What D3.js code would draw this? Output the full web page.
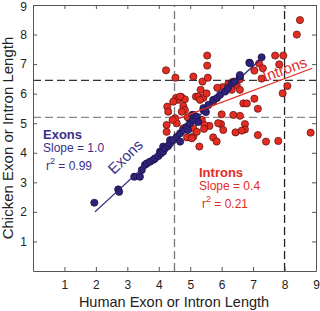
<!DOCTYPE html>
<html>
<head>
<meta charset="utf-8">
<script src="https://cdn.jsdelivr.net/npm/d3@7"></script>
<style>
  body { margin: 0; background: #fff; }
  svg { display: block; font-family: "Liberation Sans", Arial, sans-serif; }
</style>
</head>
<body>
<script>
  /***** Data *****/
  var exonHuman = [1.95, 2.71, 2.74, 3.22, 3.40, 3.46, 3.56, 3.62, 3.72, 3.83, 3.88, 3.99, 4.04, 4.07, 4.14, 4.14,
    4.20, 4.30, 4.36, 4.36, 4.46, 4.57, 4.68, 4.68, 4.78, 4.89, 4.93, 4.99, 5.10, 5.10, 5.21, 5.25, 5.42, 5.42, 5.50,
    5.58, 5.73, 5.85, 5.95, 6.11, 6.20, 6.32, 6.42, 6.58, 6.58, 6.88, 6.90, 7.27];
  var exonChicken = [2.31, 2.76, 2.68, 3.19, 3.19, 3.42, 3.59, 3.64, 3.70, 3.76, 3.81, 3.89, 4.04, 3.98, 4.04, 4.21,
    4.15, 4.23, 4.32, 4.43, 4.43, 4.54, 4.38, 4.66, 4.77, 4.88, 4.77, 5.00, 5.11, 5.28, 5.22, 5.04, 5.45, 5.51, 5.38,
    5.62, 5.79, 5.85, 5.96, 6.07, 6.19, 6.35, 6.41, 6.58, 6.63, 7.05, 7.03, 7.23];

  var intronHuman = [8.49, 8.39, 5.54, 5.54, 4.23, 4.53, 5.10, 5.39, 5.56, 7.70, 7.96, 7.83, 7.19, 7.04, 7.31, 7.27,
    8.09, 7.94, 7.04, 6.69, 6.80, 7.15, 6.58, 6.48, 6.32, 6.58, 6.03, 5.86, 6.21, 6.35, 5.33, 5.18, 5.26, 5.42, 5.52,
    5.31, 4.55, 4.62, 4.71, 4.83, 4.78, 4.27, 4.30, 5.73, 6.37, 6.58, 4.52, 4.25, 4.25, 4.57, 5.61, 5.98, 6.05, 6.74,
    6.74, 6.44, 6.64, 7.15, 7.41, 7.80, 8.83, 5.73, 5.84, 5.29, 5.10, 5.37, 5.45, 4.90, 5.10, 5.44, 5.89, 6.00, 4.92,
    4.68, 4.46, 4.83, 4.73, 4.44, 4.78, 5.05, 5.21, 5.05];
  var intronChicken = [8.49, 8.00, 7.29, 6.95, 6.79, 6.54, 6.58, 6.41, 6.54, 7.29, 7.29, 6.99, 7.02, 6.78, 6.86, 6.51,
    6.26, 6.01, 5.83, 5.67, 5.67, 5.49, 6.49, 6.29, 6.13, 6.13, 6.22, 6.20, 6.33, 6.40, 6.13, 5.90, 5.90, 5.86, 6.01,
    5.79, 5.86, 5.79, 5.89, 5.81, 5.58, 5.56, 5.39, 5.73, 5.28, 5.25, 5.17, 4.94, 4.71, 5.00, 4.91, 4.97, 4.77, 4.97,
    4.79, 4.69, 4.75, 4.60, 4.38, 4.40, 4.68, 4.52, 4.38, 4.21, 4.55, 5.11, 4.94, 4.52, 4.83, 4.81, 5.00, 5.30, 5.20,
    5.90, 5.73, 5.45, 5.39, 5.11, 4.83, 4.49, 4.71, 5.28];

  var exonFit = [[1.97, 2.0], [7.27, 7.2]];
  var intronFit = [[4.41, 5.07], [8.88, 6.86]];

  var hLines = [{v: 6.45, c: "#333"}, {v: 5.2, c: "#8a8a8a"}];
  var vLines = [{v: 4.5, c: "#777"}, {v: 8.0, c: "#222"}];
  var tickValues = [1, 2, 3, 4, 5, 6, 7, 8, 9];

  var blue = "#2e2378", red = "#e32c22";

  /***** Configuration *****/
  var W = 320, H = 311;
  var margin = {top: 5, right: 4, bottom: 40, left: 33};

  var svg = d3.select("body").append("svg")
    .attr("width", W).attr("height", H);

  /***** Scales *****/
  var x = d3.scaleLinear().domain([0, 9]).range([margin.left, W - margin.right]);
  var y = d3.scaleLinear().domain([0, 9]).range([H - margin.bottom, margin.top]);

  /***** Reference lines *****/
  svg.selectAll(".hl").data(hLines).enter().append("line")
    .attr("x1", x(0)).attr("x2", x(9))
    .attr("y1", d => y(d.v)).attr("y2", d => y(d.v))
    .attr("stroke", d => d.c).attr("stroke-width", 1.3).attr("stroke-dasharray", "8,4");
  svg.selectAll(".vl").data(vLines).enter().append("line")
    .attr("y1", y(0)).attr("y2", y(9))
    .attr("x1", d => x(d.v)).attr("x2", d => x(d.v))
    .attr("stroke", d => d.c).attr("stroke-width", 1.3).attr("stroke-dasharray", "8,4");

  /***** Axes (box, inward ticks) *****/
  function styleAxis(g) {
    g.select(".domain").attr("stroke", "#555");
    g.selectAll(".tick line").attr("stroke", "#555");
    g.selectAll("text").attr("font-size", 12).attr("fill", "#222")
      .attr("font-family", "'Liberation Sans', Arial, sans-serif");
  }
  svg.append("g").attr("transform", "translate(0," + y(0) + ")")
    .call(d3.axisBottom(x).tickValues(tickValues).tickSize(-4).tickPadding(9.5).tickSizeOuter(0))
    .call(styleAxis);
  var yAxisG = svg.append("g").attr("transform", "translate(" + x(0) + ",0)")
    .call(d3.axisLeft(y).tickValues(tickValues).tickSize(-4).tickPadding(6).tickSizeOuter(0))
    .call(styleAxis);
  // keep the top label inside the window
  yAxisG.selectAll(".tick text").filter(d => d === 9).attr("dy", "0.45em");
  svg.append("g").attr("transform", "translate(0," + y(9) + ")")
    .call(d3.axisTop(x).tickValues(tickValues).tickSize(-4).tickFormat("").tickSizeOuter(0))
    .call(styleAxis);
  svg.append("g").attr("transform", "translate(" + x(9) + ",0)")
    .call(d3.axisRight(y).tickValues(tickValues).tickSize(-4).tickFormat("").tickSizeOuter(0))
    .call(styleAxis);

  /***** Points *****/
  svg.append("g").selectAll("circle").data(intronHuman).enter().append("circle")
    .attr("cx", d => x(d)).attr("cy", (d, i) => y(intronChicken[i]))
    .attr("r", 3.6).attr("fill", red).attr("stroke", "#5a1010").attr("stroke-width", 0.7);
  svg.append("g").selectAll("circle").data(exonHuman).enter().append("circle")
    .attr("cx", d => x(d)).attr("cy", (d, i) => y(exonChicken[i]))
    .attr("r", 3.6).attr("fill", blue).attr("stroke", "#160f40").attr("stroke-width", 0.7);

  /***** Fit lines *****/
  var line = d3.line().x(d => x(d[0])).y(d => y(d[1]));
  svg.append("path").attr("d", line(exonFit)).attr("fill", "none").attr("stroke", blue).attr("stroke-width", 1.3);
  svg.append("path").attr("d", line(intronFit)).attr("fill", "none").attr("stroke", red).attr("stroke-width", 1.3);

  /***** Labels *****/
  svg.append("text").attr("transform", "translate(114,175) rotate(-44)")
    .attr("font-size", 15).attr("fill", "#3a2f8a").text("Exons");
  svg.append("text").attr("transform", "translate(265,82) rotate(-20)")
    .attr("font-size", 15).attr("fill", red).text("Introns");

  function statBlock(x0, y0, title, slope, r2, color) {
    var g = svg.append("g").attr("fill", color).attr("font-size", 12);
    g.append("text").attr("x", x0).attr("y", y0).attr("font-weight", "bold").attr("font-size", 13).text(title);
    g.append("text").attr("x", x0).attr("y", y0 + 13).text("Slope = " + slope);
    var t = g.append("text").attr("x", x0 + 3).attr("y", y0 + 31);
    t.append("tspan").text("r");
    t.append("tspan").attr("dy", -6).attr("font-size", 9).text("2");
    t.append("tspan").attr("dy", 6).text(" = " + r2);
  }
  statBlock(43, 139, "Exons", "1.0", "0.99", "#3a2f8a");
  statBlock(199, 177, "Introns", "0.4", "0.21", red);

  /***** Axis titles *****/
  svg.append("text").attr("x", 174).attr("y", 307).attr("text-anchor", "middle")
    .attr("font-size", 14.5).attr("fill", "#222").text("Human Exon or Intron Length");
  svg.append("text").attr("transform", "translate(13,138) rotate(-90)").attr("text-anchor", "middle")
    .attr("font-size", 15).attr("fill", "#222").text("Chicken Exon or Intron Length");
</script>
</body>
</html>
